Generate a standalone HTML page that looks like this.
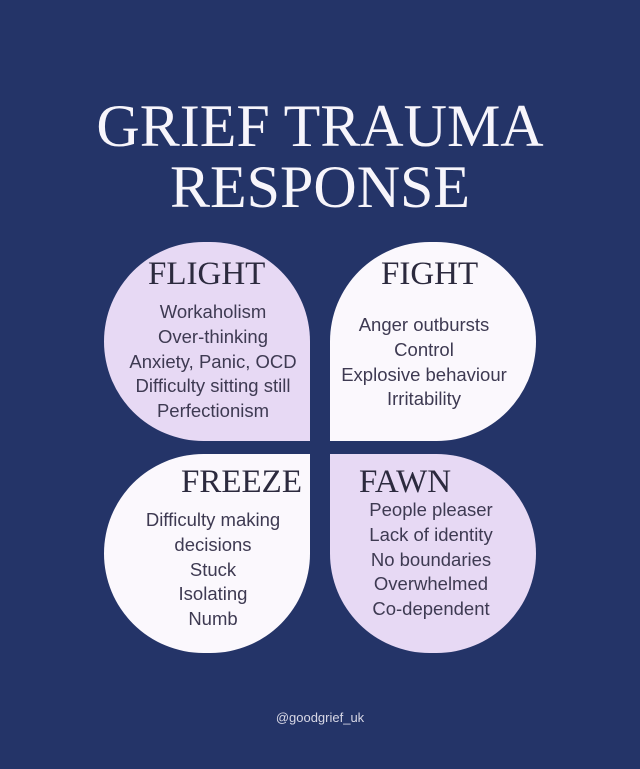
<!DOCTYPE html>
<html><head><meta charset="utf-8"><style>
body{margin:0;width:640px;height:769px;background:#243468;position:relative;overflow:hidden;font-family:"Liberation Sans",sans-serif}
.t{position:absolute;left:0;width:640px;text-align:center;color:#f7f5fb;font-family:"Liberation Serif",serif;font-size:60px;line-height:60px}
.p{position:absolute;width:206px;height:199px}
.h{position:absolute;font-family:"Liberation Serif",serif;font-size:33px;color:#2c2a3e;line-height:33px;white-space:nowrap}
.l{position:absolute;text-align:center;color:#3e3a52;font-size:18.5px;line-height:24.8px;white-space:nowrap}
</style></head><body>
<div class="t" style="top:96px">GRIEF TRAUMA</div>
<div class="t" style="top:157px">RESPONSE</div>

<div class="p" style="left:104px;top:242px;background:#e7d9f4;border-radius:100px 100px 0 100px"></div>
<div class="p" style="left:330px;top:242px;background:#fbf8fd;border-radius:100px 100px 100px 0"></div>
<div class="p" style="left:104px;top:454px;background:#fbf8fd;border-radius:100px 0 100px 100px"></div>
<div class="p" style="left:330px;top:454px;background:#e7d9f4;border-radius:0 100px 100px 100px"></div>

<div class="h" style="left:148px;top:258px">FLIGHT</div>
<div class="l" style="left:113px;width:200px;top:300px">Workaholism<br>Over-thinking<br>Anxiety, Panic, OCD<br>Difficulty sitting still<br>Perfectionism</div>

<div class="h" style="left:381px;top:258px">FIGHT</div>
<div class="l" style="left:324px;width:200px;top:313px">Anger outbursts<br>Control<br>Explosive behaviour<br>Irritability</div>

<div class="h" style="left:181px;top:466px">FREEZE</div>
<div class="l" style="left:113px;width:200px;top:508px">Difficulty making<br>decisions<br>Stuck<br>Isolating<br>Numb</div>

<div class="h" style="left:359px;top:466px">FAWN</div>
<div class="l" style="left:331px;width:200px;top:498px">People pleaser<br>Lack of identity<br>No boundaries<br>Overwhelmed<br>Co-dependent</div>

<div style="position:absolute;left:0;width:640px;top:710px;text-align:center;color:#d8d8e6;font-size:13px">@goodgrief_uk</div>
</body></html>
